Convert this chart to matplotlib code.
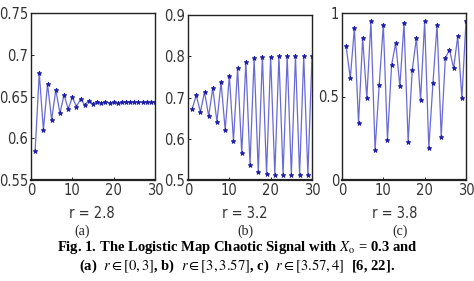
import matplotlib
matplotlib.use("Agg")
import matplotlib.pyplot as plt

# logistic map iterates (n = 1..30)
n = list(range(1, 31))
x_r28 = [0.585, 0.678, 0.610, 0.665, 0.622, 0.658, 0.630, 0.652, 0.635, 0.649,
         0.638, 0.647, 0.640, 0.645, 0.641, 0.644, 0.642, 0.644, 0.642, 0.643,
         0.642, 0.643, 0.643, 0.643, 0.643, 0.643, 0.643, 0.643, 0.643, 0.643]
x_r32 = [0.672, 0.705, 0.665, 0.713, 0.655, 0.723, 0.641, 0.737, 0.621, 0.753,
         0.595, 0.771, 0.565, 0.787, 0.537, 0.796, 0.520, 0.799, 0.515, 0.799,
         0.513, 0.800, 0.513, 0.800, 0.513, 0.800, 0.513, 0.800, 0.513, 0.800]
x_r38 = [0.80, 0.61, 0.91, 0.34, 0.85, 0.49, 0.95, 0.18, 0.57, 0.93,
         0.24, 0.69, 0.82, 0.56, 0.94, 0.23, 0.66, 0.85, 0.48, 0.95,
         0.19, 0.58, 0.93, 0.26, 0.73, 0.78, 0.67, 0.86, 0.49, 0.95]

series = [x_r28, x_r32, x_r38]
r_labels = ["r = 2.8", "r = 3.2", "r = 3.8"]
sub_labels = ["(a)", "(b)", "(c)"]
ylims = [(0.55, 0.75), (0.5, 0.9), (0, 1)]
yticks = [[0.55, 0.6, 0.65, 0.7, 0.75],
          [0.5, 0.6, 0.7, 0.8, 0.9],
          [0, 0.5, 1]]
ytick_labels = [["0.55", "0.6", "0.65", "0.7", "0.75"],
                ["0.5", "0.6", "0.7", "0.8", "0.9"],
                ["0", "0.5", "1"]]
xticks = [0, 10, 20, 30]

plt.rcParams['mathtext.fontset'] = 'stix'
serif = ['Liberation Serif', 'DejaVu Serif']
tick_font = dict(family='DejaVu Sans', stretch='condensed', fontsize=10.5, color='#333333')

W, H = 474, 281
fig = plt.figure(figsize=(W / 100, H / 100), dpi=100)

# axes boxes in pixels: left, right, top, bottom
boxes = [(31, 155, 13, 180), (188, 312, 15, 180), (342, 466, 13, 180)]
label_x = [92, 245, 395]
sub_x = [82, 245, 400]

for i, (l, r, t, b) in enumerate(boxes):
    ax = fig.add_axes([l / W, 1 - b / H, (r - l) / W, (b - t) / H])
    ax.plot(n, series[i], '-', color='#6a6ad4', lw=0.9)
    ax.plot(n, series[i], '*', color='#1c1ca8', ms=3.5, mew=0.6)
    ax.set_xlim(0, 30)
    ax.set_ylim(*ylims[i])
    ax.set_xticks(xticks)
    ax.set_xticklabels([str(v) for v in xticks], **tick_font)
    ax.set_yticks(yticks[i])
    ax.set_yticklabels(ytick_labels[i], **tick_font)
    ax.tick_params(direction='in', length=2, width=0.6, pad=2)
    for s in ax.spines.values():
        s.set_linewidth(1.0)
        s.set_color('#222222')
    ax.spines['bottom'].set_linewidth(1.6)
    fig.text(label_x[i] / W, 1 - 214 / H, r_labels[i], family='DejaVu Sans',
             stretch='condensed', fontsize=10.5, color='#333333', ha='center', va='center')
    fig.text(sub_x[i] / W, 1 - 231 / H, sub_labels[i], family=serif, fontsize=10,
             color='#222222', ha='center', va='center')

fig.text(237 / W, 1 - 248 / H,
         r"Fig. 1. The Logistic Map Chaotic Signal with $X_{\mathrm{o}}$ = 0.3 and",
         family=serif, fontsize=10.5, fontweight='bold', ha='center', va='center')
fig.text(237 / W, 1 - 266 / H,
         r"(a)  $r \in [0,3]$, b)  $r \in [3, 3.57]$, c)  $r \in [3.57, 4]$  [6, 22].",
         family=serif, fontsize=10.5, fontweight='bold', ha='center', va='center')

fig.savefig("out.png", dpi=100)
